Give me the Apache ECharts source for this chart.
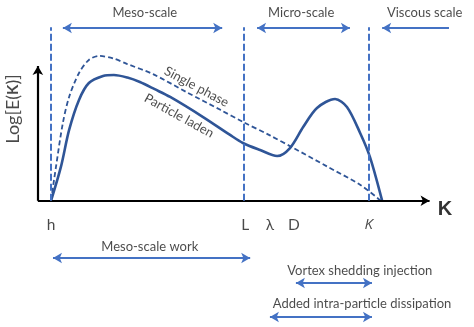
<!DOCTYPE html>
<html>
<head>
<meta charset="utf-8">
<script src="https://cdn.jsdelivr.net/npm/echarts@6/dist/echarts.min.js"></script>
<style>html,body{margin:0;padding:0;background:#fff}#c{width:474px;height:327px}</style>
</head>
<body>
<div id="c"></div>
<script>
// Wavenumber (log k, arbitrary units) and log E values
const singlePhaseK = [0, 1.5, 3.6, 5.5, 8.5, 11.5, 14.6, 19, 23, 31, 41.3, 51.3, 58.3, 66.5, 73.5, 83.8, 93.9, 100.2];
const singlePhaseE = [0, 23.6, 54.3, 72.4, 89.1, 98.2, 101, 99.2, 95.5, 88.3, 75.6, 63.6, 55, 45.6, 37, 24, 11.2, 0];
const particleK = [0, 3.0, 5.5, 8.5, 11.5, 15.8, 19.1, 23.2, 27, 31.5, 36.2, 46.2, 54.4, 58.3, 63.5, 68.7, 72.6, 76.6, 80.8, 86.3, 89.9, 93.9, 96.9, 100.6];
const particleE = [0, 23.6, 49.4, 70.3, 82.1, 87, 87.7, 85.9, 82.8, 77.8, 72.4, 58.4, 45.9, 40.3, 35.4, 31.2, 36.8, 51.4, 64.7, 71, 65.4, 47.3, 30.5, 0];
// Scale landmarks on the k axis
const tickLabels = ['h', 'L', 'λ', 'D', 'K'];
const tickPositions = [0, 58.6, 66.5, 73.8, 96.5];
const boundaryPositions = [0, 58.6, 96.5]; // h, L, K (dashed separators)

const zip = (a, b) => a.map((v, i) => [v, b[i]]);
const blue = '#4472C4';
const navy = '#2F5597';
const font = 'Lato, "Open Sans", sans-serif';
const ink = '#1c1c1c';

const arrowLine = (x1, x2, y, both) => [
  { coord: [x1, y], symbol: both ? 'arrow' : 'none' },
  { coord: [x2, y], symbol: 'arrow' }
];

function txt(x, y, text, extra) {
  return {
    value: [x, y],
    label: Object.assign({ show: true, formatter: text, position: 'inside', color: ink, fontFamily: font, fontSize: 13 }, extra || {})
  };
}

const chart = echarts.init(document.getElementById('c'), null, { renderer: 'canvas' });
chart.setOption({
  animation: false,
  backgroundColor: '#fff',
  grid: { left: 0, right: 0, top: 0, bottom: 0 },
  xAxis: { type: 'value', min: -15.5, max: 128.5, show: false },
  yAxis: { type: 'value', min: -88, max: 140, show: false },
  series: [
    {
      name: 'Single phase', type: 'line', data: zip(singlePhaseK, singlePhaseE),
      smooth: 0.3, showSymbol: false, symbol: 'none',
      lineStyle: { color: navy, width: 1.8, type: [5, 3] }, z: 3
    },
    {
      name: 'Particle laden', type: 'line', data: zip(particleK, particleE),
      smooth: 0.3, showSymbol: false, symbol: 'none',
      lineStyle: { color: navy, width: 2.6 }, z: 3
    },
    {
      // axes, separators and scale arrows
      type: 'line', data: [], symbol: 'none',
      markLine: {
        silent: true, animation: false, label: { show: false },
        symbolSize: [8, 9],
        data: [
          [{ coord: [-4, 0], symbol: 'none', lineStyle: { color: '#000', width: 2.2, type: 'solid' } },
           { coord: [115, 0], symbol: 'arrow' }],
          [{ coord: [-4, 0], symbol: 'none', lineStyle: { color: '#000', width: 2.2, type: 'solid' } },
           { coord: [-4, 94], symbol: 'arrow' }],
          ...boundaryPositions.map(x => [
            { coord: [x, 0], symbol: 'none', lineStyle: { color: blue, width: 2, type: [7, 3] } },
            { coord: [x, 121], symbol: 'none' }
          ]),
          ...[
            arrowLine(3.6, 52, 120.5, true),
            arrowLine(62.6, 90.8, 120.5, true),
            arrowLine(120.9, 100.6, 120.5, false),
            arrowLine(0.6, 60.5, -39.9, true),
            arrowLine(74.4, 97.5, -57.3, true),
            arrowLine(66.5, 97.5, -81, true)
          ].map(p => [Object.assign(p[0], { lineStyle: { color: blue, width: 2.2, type: 'solid' } }), p[1]])
        ]
      }
    },
    {
      type: 'scatter', symbolSize: 0, silent: true, z: 5,
      data: [
        txt(28.5, 131, 'Meso-scale'),
        txt(76, 131, 'Micro-scale'),
        txt(113.5, 131, 'Viscous scale'),
        txt(30, -32, 'Meso-scale work'),
        txt(93.8, -49, 'Vortex shedding injection'),
        txt(94.5, -72, 'Added intra-particle dissipation'),
        txt(44.2, 79.5, 'Single phase', { rotate: -28 }),
        txt(38.9, 59.3, 'Particle laden', { rotate: -29 }),
        ...tickLabels.map((t, i) => txt(tickPositions[i] + (i === 1 ? 0.4 : 0), -17, t,
          i === 4 ? { fontSize: 15, fontStyle: 'italic', fontFamily: '"Open Sans", "DejaVu Sans", sans-serif' } : { fontSize: 15.5 })),
        txt(119.7, -6, 'K', { fontSize: 20, fontWeight: 'bold', color: '#000', fontFamily: '"Liberation Sans", Arial, sans-serif' }),
        txt(-11.5, 64, '{n|Log[E(}{b|K}{n|)]}', {
          rotate: 90,
          rich: {
            n: { fontSize: 18, fontFamily: font, color: ink },
            b: { fontSize: 15, fontFamily: font, fontWeight: 'bold', color: ink }
          }
        })
      ]
    }
  ]
});
</script>
</body>
</html>
